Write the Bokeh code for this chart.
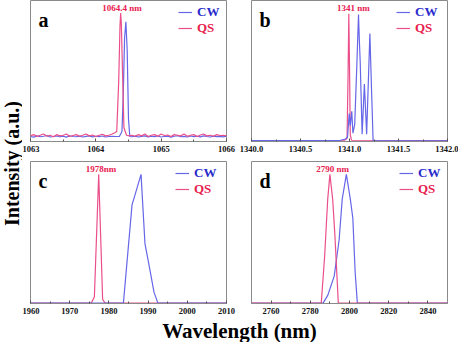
import math
from bokeh.plotting import figure
from bokeh.layouts import row, column
from bokeh.models import Legend, LegendItem, Label, FixedTicker, PrintfTickFormatter, Range1d
from bokeh.embed import file_html
from bokeh.resources import INLINE

# ---------------- data ----------------
BASE_L = [1063.00, 1063.05, 1063.10, 1063.15, 1063.20, 1063.25, 1063.30, 1063.35, 1063.40, 1063.45,
          1063.50, 1063.55, 1063.60, 1063.65, 1063.70, 1063.75, 1063.80, 1063.85, 1063.90, 1063.95,
          1064.00, 1064.05, 1064.10, 1064.15, 1064.20, 1064.25]
BASE_R = [1064.55, 1064.60, 1064.65, 1064.70, 1064.75, 1064.80, 1064.85, 1064.90, 1064.95, 1065.00,
          1065.05, 1065.10, 1065.15, 1065.20, 1065.25, 1065.30, 1065.35, 1065.40, 1065.45, 1065.50,
          1065.55, 1065.60, 1065.65, 1065.70, 1065.75, 1065.80, 1065.85, 1065.90, 1065.95, 1066.00]

A_QS_PEAK_X = [1064.29, 1064.32, 1064.35, 1064.37, 1064.38, 1064.39, 1064.41, 1064.43, 1064.47, 1064.51]
A_QS_PEAK_Y = [0.04, 0.05, 0.45, 0.90, 1.00, 0.92, 0.50, 0.08, 0.02, 0.015]
A_QS_BASE_L = [0.015, 0.025, 0.010, 0.020, 0.030, 0.012, 0.020, 0.008, 0.025, 0.015, 0.020, 0.030, 0.010,
               0.018, 0.025, 0.012, 0.020, 0.030, 0.015, 0.022, 0.010, 0.020, 0.028, 0.015, 0.020, 0.030]
A_QS_BASE_R = [0.020, 0.012, 0.025, 0.015, 0.030, 0.010, 0.020, 0.025, 0.012, 0.030, 0.018, 0.022, 0.010,
               0.025, 0.020, 0.015, 0.030, 0.012, 0.020, 0.025, 0.010, 0.022, 0.030, 0.015, 0.020, 0.012,
               0.025, 0.018, 0.020, 0.015]

A_CW_PEAK_X = [1064.30, 1064.36, 1064.40, 1064.42, 1064.44, 1064.46, 1064.48, 1064.50, 1064.52]
A_CW_PEAK_Y = [0.01, 0.01, 0.05, 0.35, 0.80, 0.93, 0.70, 0.15, 0.01]
A_CW_BASE_L = [0.010, 0.005, 0.015, 0.008, 0.012, 0.018, 0.006, 0.010, 0.014, 0.008, 0.012, 0.005, 0.016,
               0.010, 0.008, 0.013, 0.006, 0.011, 0.015, 0.007, 0.012, 0.009, 0.014, 0.006, 0.010, 0.012]
A_CW_BASE_R = [0.008, 0.013, 0.006, 0.011, 0.015, 0.007, 0.012, 0.009, 0.014, 0.006, 0.010, 0.013, 0.005,
               0.012, 0.016, 0.008, 0.011, 0.006, 0.014, 0.009, 0.012, 0.007, 0.015, 0.010, 0.006, 0.013,
               0.009, 0.011, 0.007, 0.012]

B_QS_X = [1340.0, 1340.95, 1340.975, 1340.985, 1340.993, 1341.0, 1341.008, 1341.02, 1342.0]
B_QS_Y = [0.003, 0.005, 0.02, 0.50, 1.00, 0.60, 0.05, 0.005, 0.003]
B_CW_X = [1340.0, 1340.9, 1340.96, 1340.98, 1340.997, 1341.008, 1341.023, 1341.035, 1341.053, 1341.075,
          1341.092, 1341.1, 1341.109, 1341.129, 1341.152, 1341.175, 1341.208, 1341.225, 1341.241, 1341.26, 1342.0]
B_CW_Y = [0.003, 0.003, 0.015, 0.03, 0.215, 0.12, 0.233, 0.06, 0.128, 0.60,
          0.995, 0.80, 0.627, 0.053, 0.447, 0.053, 0.845, 0.40, 0.0, 0.0, 0.0]

C_QS_X = [1960, 1975.5, 1976.3, 1977.4, 1978.4, 1979.0, 2010]
C_QS_Y = [0, 0, 0.05, 1.0, 0.03, 0, 0]
C_CW_X = [1960, 1983.7, 1985.9, 1987.0, 1988.2, 1989.2, 1990.3, 1991.5, 1992.5, 2010]
C_CW_Y = [0, 0, 0.763, 0.876, 1.0, 0.462, 0.286, 0.085, 0, 0]

D_QS_X = [2750, 2785.6, 2787.3, 2788.9, 2790.0, 2791.4, 2792.5, 2794.3, 2850]
D_QS_Y = [0, 0, 0.36, 0.81, 1.0, 0.81, 0.54, 0, 0]
D_CW_X = [2750, 2786.5, 2788.9, 2792.2, 2794.7, 2796.3, 2798.4, 2800.4, 2801.7, 2802.9, 2804.0, 2850]
D_CW_Y = [0, 0, 0.06, 0.21, 0.49, 0.81, 1.0, 0.81, 0.66, 0.236, 0, 0]

A_TICKS = [1063, 1064, 1065, 1066]
B_TICKS = [1340.0, 1340.5, 1341.0, 1341.5, 1342.0]
C_TICKS = [1960, 1970, 1980, 1990, 2000, 2010]
D_TICKS = [2760, 2780, 2800, 2820, 2840]

PEAK_LABELS = ["1064.4 nm", "1341 nm", "1978nm", "2790 nm"]
PEAK_POS = [1064.4, 1341.04, 1978.0, 2791.4]
PANEL_LETTERS = ["a", "b", "c", "d"]
SERIES = ["CW", "QS"]

# ---------------- style ----------------
SERIF = "Liberation Serif"
BLUE = "#6666e8"
PINK = "#ea4f8a"
BLUE_TXT = "#2a2acc"
RED_TXT = "#e8204f"
GRAY = "#8a8a8a"
FW = 196
TOP_H = 141
TOP_B = 20
BOT_H = 142
BOT_B = 15
XL_H = 24
YL_W = 22


def panel(xr, yr, ticks, minor, fmt, frame_h, b_bottom, b_left, b_right):
    p = figure(frame_width=FW, frame_height=frame_h,
               x_range=Range1d(*xr), y_range=Range1d(*yr),
               output_backend="svg", toolbar_location=None,
               min_border_left=b_left, min_border_right=b_right,
               min_border_top=0, min_border_bottom=b_bottom)
    p.grid.visible = False
    p.yaxis.visible = False
    p.outline_line_color = GRAY
    p.outline_line_width = 1
    ax = p.xaxis[0]
    ax.ticker = FixedTicker(ticks=ticks, minor_ticks=minor)
    ax.formatter = PrintfTickFormatter(format=fmt)
    ax.major_label_text_font = SERIF
    ax.major_label_text_font_style = "bold"
    ax.major_label_text_font_size = "8.5px"
    ax.major_label_text_color = "#111111"
    ax.major_label_standoff = 4
    ax.axis_line_color = GRAY
    ax.major_tick_line_color = "#555555"
    ax.minor_tick_line_color = "#555555"
    ax.major_tick_in = 3
    ax.major_tick_out = 0
    ax.minor_tick_in = 2
    ax.minor_tick_out = 0
    return p


def decorate(p, idx, frame_h, r_cw, r_qs, leg_x):
    p.add_layout(Label(x=8, y=frame_h - 19, x_units="screen", y_units="screen",
                       text=PANEL_LETTERS[idx], text_font=SERIF, text_font_style="bold",
                       text_font_size="20px", text_color="black", text_baseline="alphabetic"))
    p.add_layout(Label(x=PEAK_POS[idx], y=frame_h - 7, x_units="data", y_units="screen",
                       text=PEAK_LABELS[idx], text_font=SERIF, text_font_style="bold",
                       text_font_size="9px", text_color=RED_TXT,
                       text_align="center", text_baseline="middle"))
    for name, r, col, yoff in [(SERIES[0], r_cw, BLUE_TXT, 20), (SERIES[1], r_qs, RED_TXT, 36)]:
        leg = Legend(items=[LegendItem(label=name, renderers=[r])],
                     location=(leg_x, frame_h - yoff), orientation="vertical",
                     padding=0, margin=0, spacing=0, border_line_color=None,
                     background_fill_alpha=0, label_text_color=col, label_text_font=SERIF,
                     label_text_font_style="bold", label_text_font_size="13px",
                     glyph_width=14, glyph_height=14, label_height=14, label_standoff=5)
        p.add_layout(leg)


# panel a
pa = panel((1063, 1066), (-0.03, 1.10), A_TICKS, [1063.5, 1064.5, 1065.5], "%d", TOP_H, TOP_B, 8, 12)
a_cw_x = BASE_L + A_CW_PEAK_X + BASE_R
a_cw_y = A_CW_BASE_L + A_CW_PEAK_Y + A_CW_BASE_R
a_qs_x = BASE_L + A_QS_PEAK_X + BASE_R
a_qs_y = A_QS_BASE_L + A_QS_PEAK_Y + A_QS_BASE_R
ra_cw = pa.line(a_cw_x, a_cw_y, line_color=BLUE, line_width=1.2)
ra_qs = pa.line(a_qs_x, a_qs_y, line_color=PINK, line_width=1.2)
decorate(pa, 0, TOP_H, ra_cw, ra_qs, 148)

# panel b
pb = panel((1340.0, 1342.0), (-0.005, 1.105), B_TICKS, [1340.25, 1340.75, 1341.25, 1341.75], "%.1f",
           TOP_H, TOP_B, 13, 11)
rb_qs = pb.line(B_QS_X, B_QS_Y, line_color=PINK, line_width=1.2)
rb_cw = pb.line(B_CW_X, B_CW_Y, line_color=BLUE, line_width=1.2)
decorate(pb, 1, TOP_H, rb_cw, rb_qs, 145)

# panel c
pc = panel((1960, 2010), (-0.003, 1.10), C_TICKS, [1965, 1975, 1985, 1995, 2005], "%d", BOT_H, BOT_B, 8, 12)
rc_qs = pc.line(C_QS_X, C_QS_Y, line_color=PINK, line_width=1.2)
rc_cw = pc.line(C_CW_X, C_CW_Y, line_color=BLUE, line_width=1.2)
decorate(pc, 2, BOT_H, rc_cw, rc_qs, 145)

# panel d
pd_ = panel((2750, 2850), (-0.003, 1.10), D_TICKS, [2770, 2790, 2810, 2830], "%d", BOT_H, BOT_B, 13, 11)
rd_cw = pd_.line(D_CW_X, D_CW_Y, line_color=BLUE, line_width=1.2)
rd_qs = pd_.line(D_QS_X, D_QS_Y, line_color=PINK, line_width=1.2)
decorate(pd_, 3, BOT_H, rd_cw, rd_qs, 148)

TOTAL_H = (TOP_H + TOP_B) + (BOT_H + BOT_B) + XL_H
RIGHT_W = (8 + FW + 12) + (13 + FW + 11)

# y label strip
py = figure(width=YL_W, height=TOTAL_H, x_axis_type=None, y_axis_type=None,
            output_backend="svg", toolbar_location=None, min_border=0,
            x_range=Range1d(0, 1), y_range=Range1d(0, 1))
py.outline_line_color = None
py.grid.visible = False
py.add_layout(Label(x=YL_W / 2, y=TOTAL_H - 163, x_units="screen", y_units="screen",
                    text="Intensity (a.u.)", angle=math.pi / 2, text_font=SERIF,
                    text_font_style="bold", text_font_size="20px", text_color="black",
                    text_align="center", text_baseline="middle"))

# x label strip
px = figure(width=RIGHT_W, height=XL_H, x_axis_type=None, y_axis_type=None,
            output_backend="svg", toolbar_location=None, min_border=0,
            x_range=Range1d(0, 1), y_range=Range1d(0, 1))
px.outline_line_color = None
px.grid.visible = False
px.add_layout(Label(x=RIGHT_W / 2 - 1, y=XL_H / 2, x_units="screen", y_units="screen",
                    text="Wavelength (nm)", text_font=SERIF, text_font_style="bold",
                    text_font_size="21px", text_color="black",
                    text_align="center", text_baseline="middle"))

layout = row(py, column(row(pa, pb), row(pc, pd_), px))

open("out.html", "w").write(file_html(layout, INLINE))
